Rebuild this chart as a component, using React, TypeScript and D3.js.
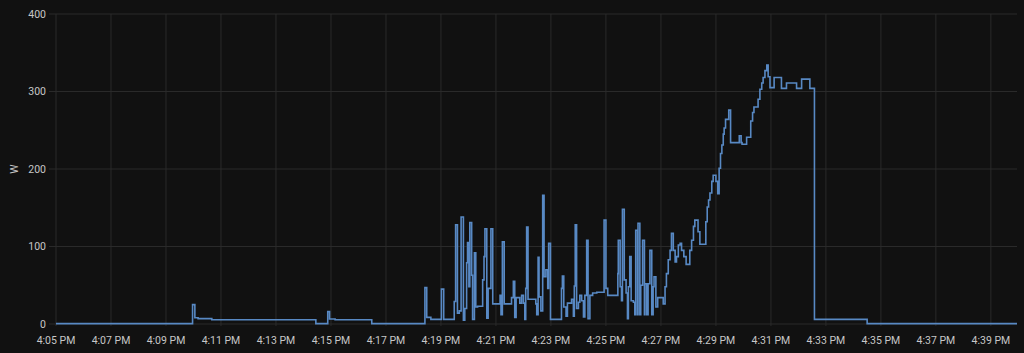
import React from "react";
import * as d3 from "d3";

const times: string[] = [
  "16:05:00","16:09:58","16:10:03","16:10:10","16:10:40","16:14:27","16:14:53","16:14:57","16:15:09","16:16:29",
  "16:18:25","16:18:29","16:18:38","16:19:01","16:19:06","16:19:29","16:19:32","16:19:36","16:19:40","16:19:44",
  "16:19:49","16:19:52","16:19:56","16:19:58","16:20:01","16:20:03","16:20:07","16:20:09","16:20:13","16:20:16",
  "16:20:20","16:20:31","16:20:34","16:20:36","16:20:40","16:20:43","16:20:49","16:20:53","16:21:09","16:21:11",
  "16:21:14","16:21:18","16:21:34","16:21:38","16:21:41","16:21:44","16:21:52","16:21:56","16:22:00","16:22:03",
  "16:22:05","16:22:07","16:22:10","16:22:27","16:22:29","16:22:32","16:22:34","16:22:38","16:22:42","16:22:45",
  "16:22:49","16:22:53","16:22:55","16:22:59","16:23:23","16:23:25","16:23:28","16:23:33","16:23:36","16:23:45",
  "16:23:49","16:23:51","16:23:53","16:23:56","16:24:00","16:24:03","16:24:07","16:24:11","16:24:14","16:24:18",
  "16:24:21","16:24:25","16:24:31","16:24:40","16:24:56","16:25:00","16:25:04","16:25:26","16:25:27","16:25:31",
  "16:25:34","16:25:36","16:25:40","16:25:44","16:25:47","16:25:49","16:25:52","16:25:55","16:26:00","16:26:03",
  "16:26:05","16:26:09","16:26:10","16:26:14","16:26:16","16:26:20","16:26:24","16:26:25","16:26:29","16:26:32",
  "16:26:36","16:26:40","16:26:43","16:26:45","16:26:49","16:26:53","16:27:05","16:27:09","16:27:12","16:27:16",
  "16:27:20","16:27:23","16:27:27","16:27:31","16:27:34","16:27:38","16:27:42","16:27:45","16:27:50","16:27:55",
  "16:28:03","16:28:07","16:28:11","16:28:14","16:28:21","16:28:25","16:28:38","16:28:41","16:28:44","16:28:47",
  "16:28:51","16:28:54","16:29:00","16:29:04","16:29:07","16:29:10","16:29:13","16:29:16","16:29:18","16:29:21",
  "16:29:28","16:29:32","16:29:51","16:29:55","16:29:57","16:30:07","16:30:16","16:30:20","16:30:23","16:30:32",
  "16:30:36","16:30:40","16:30:43","16:30:47","16:30:51","16:30:54","16:30:58","16:31:07","16:31:23","16:31:34",
  "16:31:56","16:32:07","16:32:25","16:32:35","16:34:30","16:39:57",
];

const watts: number[] = [
  0.5,25,8,7,5.5,0.5,16,6.5,5.5,0.5,
  47,8.6,6,45,6,29,128,14,17,138,
  5,20,79,105,48,131,63,6,92,22,
  23,57,87,123,7.6,46,123,26,37,12,
  106,26,34,55,8.6,34,27,37,27,6,
  46,125,32,26,12,86,35,17,166,61,
  70,46,104,6,46,62,22,10,27,32,
  10,49,128,20,28,37,30,9,37,108,
  7,37,40,41,134,46,37,65,108,48,
  30,148,57,40,7,48,87,30,28,12,
  121,12,130,12,50,108,12,52,12,52,
  95,12,48,61,22,34,26,48,65,83,
  95,117,95,80,87,102,104,95,87,77,
  95,108,126,134,119,103,132,151,160,169,
  184,192,184,168,201,220,231,245,253,264,
  276,234,243,234,232,241,262,273,280,290,
  303,311,318,327,334,319,305,318,304,311,
  304,316,304,6,0.5,0.5,
];

const yTicks: number[] = [0, 100, 200, 300, 400];
const domainStart = "16:05:00";
const domainEnd = "16:39:57";
const yLabel = "W";

const W = 1024;
const H = 353;

export default function App() {
  const parse = d3.timeParse("%H:%M:%S");
  const data = times.map((t, i) => ({ t: parse(t) as Date, v: watts[i] }));
  const x = d3
    .scaleTime()
    .domain([parse(domainStart) as Date, parse(domainEnd) as Date])
    .range([56, 1017]);
  const y = d3.scaleLinear().domain([0, 400]).range([324, 14]);
  const xTicks = x
    .ticks(d3.timeMinute.every(1) as any)
    .filter((d) => d.getMinutes() % 2 === 1);
  const fmt = d3.timeFormat("%-I:%M %p");
  const line = d3
    .line<{ t: Date; v: number }>()
    .x((d) => x(d.t))
    .y((d) => y(d.v))
    .curve(d3.curveStepAfter);

  const grid = "#2a2a2a";
  const textColor = "#c7c7c7";
  const font = "Roboto, 'Noto Sans', sans-serif";

  return (
    <svg
      width={W}
      height={H}
      style={{ position: "absolute", left: 0, top: 0, background: "#111111" }}
    >
      <rect x={0} y={0} width={W} height={H} fill="#111111" />
      {xTicks.map((d, i) => (
        <g key={"x" + i}>
          <line x1={x(d)} x2={x(d)} y1={14} y2={326} stroke={grid} strokeWidth={1} />
          <text
            x={x(d)}
            y={344}
            fill={textColor}
            fontSize={10.5}
            fontFamily={font}
            textAnchor="middle"
          >
            {fmt(d)}
          </text>
        </g>
      ))}
      {yTicks.map((v, i) => (
        <g key={"y" + i}>
          <line x1={49} x2={1017} y1={y(v)} y2={y(v)} stroke={grid} strokeWidth={1} />
          <text
            x={46}
            y={y(v)}
            dy="0.35em"
            fill={textColor}
            fontSize={10.5}
            fontFamily={font}
            textAnchor="end"
          >
            {v}
          </text>
        </g>
      ))}
      <text
        transform={`translate(18,${y(200)}) rotate(-90)`}
        fill={textColor}
        fontSize={10.5}
        fontFamily={font}
        textAnchor="middle"
      >
        {yLabel}
      </text>
      <path d={line(data) || ""} fill="none" stroke="#5889c4" strokeWidth={1.6} />
    </svg>
  );
}
